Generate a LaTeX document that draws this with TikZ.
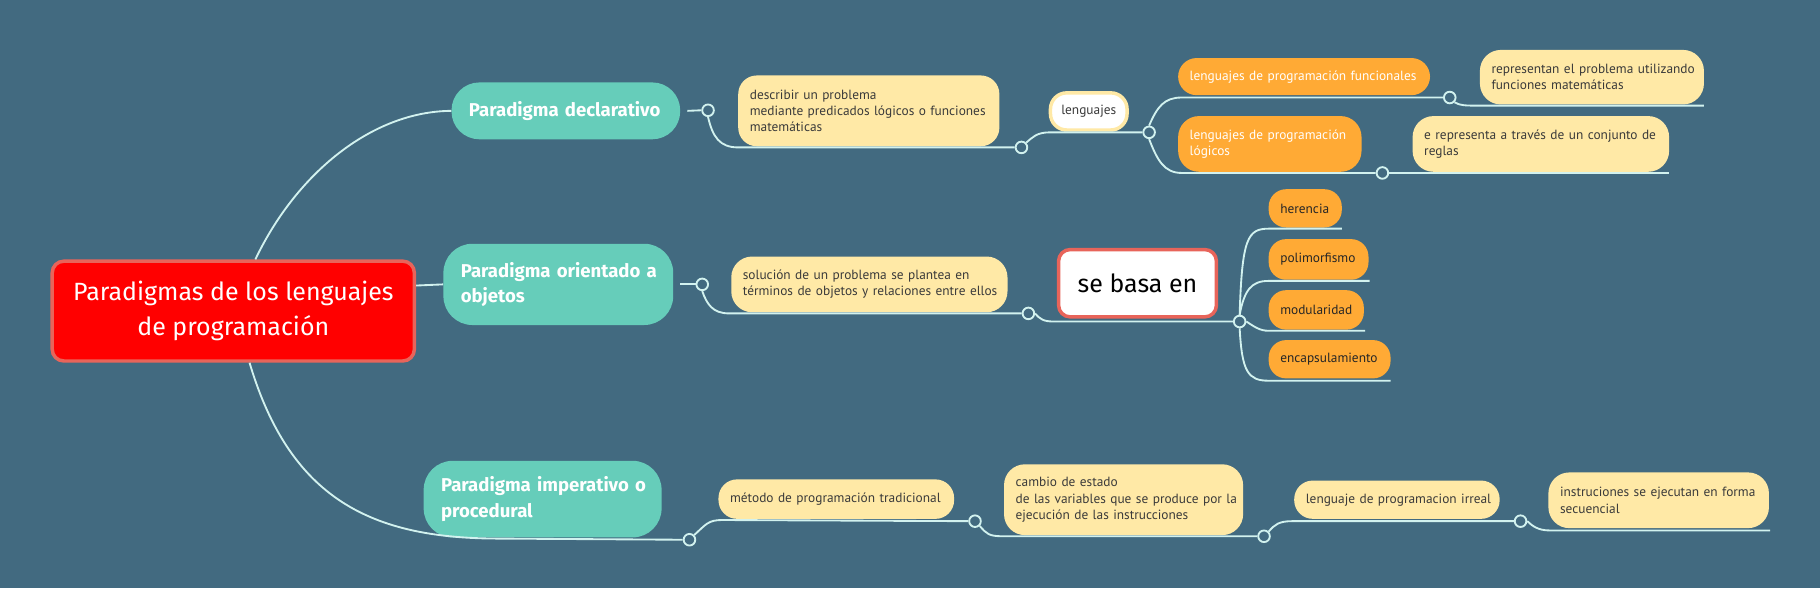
\documentclass[tikz,border=0pt]{standalone}
\usepackage{fontspec}
\setmainfont{PT Sans}
\newfontfamily\headfont{Fira Sans}
\usetikzlibrary{calc}
\definecolor{bg}{HTML}{426A80}
\definecolor{teal}{HTML}{66CDBA}
\definecolor{yel}{HTML}{FFE9A6}
\definecolor{ora}{HTML}{FFAA35}
\definecolor{lin}{HTML}{D2F2EF}
\definecolor{rootred}{HTML}{FF0000}
\definecolor{rootborder}{HTML}{E8645A}
\definecolor{txt}{HTML}{3A3A3A}
\newcommand\lne[1]{\mbox{#1}}
\tikzset{
  conn/.style={draw=lin, line width=1.6pt},
  dot/.style={circle, draw=lin, fill=bg, line width=1.6pt, minimum size=10pt, inner sep=0pt},
  headbox/.style={fill=teal, text=white, inner xsep=15pt, inner ysep=0pt, align=left,
    font=\headfont\bfseries\fontsize{16}{22}\selectfont},
  yelbox/.style={fill=yel, text=txt, inner xsep=10pt, inner ysep=0pt, align=left,
    font=\fontsize{11.5}{14}\selectfont},
  orabox/.style={fill=ora, text=white, inner xsep=10pt, inner ysep=0pt, align=left,
    font=\fontsize{11.5}{14}\selectfont},
  orabox2/.style={fill=ora, text=black!85, inner xsep=10pt, inner ysep=0pt, align=left,
    font=\fontsize{11.5}{14}\selectfont},
}
\begin{document}
\begin{tikzpicture}[x=1pt,y=-1pt]
\fill[bg] (0,0) rectangle (1568,507);
\useasboundingbox (0,0) rectangle (1568,507);

% root
\node[fill=rootred, draw=rootborder, line width=3pt, rounded corners=10pt,
  minimum width=312pt, minimum height=86pt, text=white, align=center,
  font=\headfont\fontsize{21.5}{30}\selectfont] (root) at (201,268)
  {Paradigmas de los lenguajes\\de programación};

% heads
\node[headbox, rounded corners=24pt, text width=167pt, minimum height=49pt] (decl) at (487.5,95.5) {\lne{Paradigma declarativo}};
\node[headbox, rounded corners=25pt, text width=168pt, minimum height=70pt] (oo) at (481,245) {\lne{Paradigma orientado a}\\\lne{objetos}};
\node[headbox, rounded corners=25pt, text width=175pt, minimum height=66pt] (imp) at (467.5,430) {\lne{Paradigma imperativo o}\\\lne{procedural}};

% declarative branch
\node[yelbox, rounded corners=16pt, text width=205pt, minimum height=61pt] (desc) at (748.5,95.5)
  {\lne{describir un problema}\\\lne{mediante predicados lógicos o funciones}\\\lne{matemáticas}};
\node[fill=white, draw=yel, line width=3pt, rounded corners=14pt, minimum width=66pt, minimum height=32pt,
  inner sep=0pt, text=txt, font=\fontsize{11.5}{14}\selectfont] (leng) at (938,96) {lenguajes};
\node[orabox, rounded corners=16pt, text width=197pt, minimum height=32pt] (funcs) at (1123.5,66) {\lne{lenguajes de programación funcionales}};
\node[orabox, rounded corners=18pt, text width=138pt, minimum height=48pt] (logs) at (1094,124) {\lne{lenguajes de programación}\\\lne{lógicos}};
\node[yelbox, rounded corners=18pt, text width=173pt, minimum height=47pt] (repr) at (1371.5,66.5) {\lne{representan el problema utilizando}\\\lne{funciones matemáticas}};
\node[yelbox, rounded corners=18pt, text width=201pt, minimum height=48pt] (erep) at (1327.5,124) {\lne{e representa a través de un conjunto de}\\\lne{reglas}};

% object branch
\node[yelbox, rounded corners=18pt, text width=218pt, minimum height=48pt] (sol) at (749,245)
  {\lne{solución de un problema se plantea en}\\\lne{términos de objetos y relaciones entre ellos}};
\node[fill=white, draw=rootborder, line width=3pt, rounded corners=10pt, minimum width=136pt, minimum height=58pt,
  inner sep=0pt, text=black, font=\headfont\fontsize{21.5}{26}\selectfont] (sebasa) at (980,244) {se basa en};
\node[orabox2, rounded corners=15pt, text width=43pt, minimum height=33pt] (her) at (1124.5,179.5) {\lne{herencia}};
\node[orabox2, rounded corners=15pt, text width=66pt, minimum height=35pt] (pol) at (1136,223.5) {\lne{polimorfismo}};
\node[orabox2, rounded corners=15pt, text width=62pt, minimum height=34pt] (mod) at (1134,267) {\lne{modularidad}};
\node[orabox2, rounded corners=15pt, text width=85pt, minimum height=33pt] (enc) at (1145.5,309.5) {\lne{encapsulamiento}};

% imperative branch
\node[yelbox, rounded corners=16pt, text width=183pt, minimum height=34pt] (met) at (720.5,430) {\lne{método de programación tradicional}};
\node[yelbox, rounded corners=18pt, text width=186pt, minimum height=61pt] (cam) at (968,430.5)
  {\lne{cambio de estado}\\\lne{de las variables que se produce por la}\\\lne{ejecución de las instrucciones}};
\node[yelbox, rounded corners=16pt, text width=157pt, minimum height=33pt] (irr) at (1203.5,430.5) {\lne{lenguaje de programacion irreal}};
\node[yelbox, rounded corners=18pt, text width=170pt, minimum height=48pt] (ins) at (1429,431) {\lne{instruciones se ejecutan en forma}\\\lne{secuencial}};

% junction dots
\node[dot] (c1) at (610,95) {};
\node[dot] (c2) at (880,127) {};
\node[dot] (c3) at (990,114) {};
\node[dot] (c4) at (1249,84) {};
\node[dot] (c5) at (1191,149) {};
\node[dot] (c6) at (605,245) {};
\node[dot] (c7) at (886,270) {};
\node[dot] (c8) at (1068,277) {};
\node[dot] (c9) at (594,465) {};
\node[dot] (c10) at (840,449) {};
\node[dot] (c11) at (1089,462) {};
\node[dot] (c12) at (1310,449) {};

% free ends
\coordinate (e1) at (1468,91);
\coordinate (e2) at (1438,149);
\coordinate (e3) at (1156,197);
\coordinate (e4) at (1180,242);
\coordinate (e5) at (1176,285);
\coordinate (e6) at (1198,328);
\coordinate (e7) at (1525,457);

% connectors
\draw[conn] ([xshift=19pt]root.north) .. controls (255,150) and (320,96) .. (decl.west);
\draw[conn] ([yshift=22pt]root.east) -- (oo.west);
\draw[conn] ([xshift=14pt]root.south) .. controls (250,430) and (320,464) .. (430,464) -- (c9.west);

\draw[conn] ([xshift=6pt]decl.east) -- (c1.west);
\draw[conn] (c1.south) .. controls (614,118) and (620,127) .. (636,127) -- (c2.west);
\draw[conn] (c2.north east) .. controls (890,118) and (893,114) .. (905,114) -- (c3.west);
\draw[conn] (c3.north) .. controls (997,92) and (1003,84) .. (1018,84) -- (c4.west);
\draw[conn] (c4.south east) .. controls (1258,91) and (1262,91) .. (1275,91) -- (e1);
\draw[conn] (c3.south) .. controls (997,138) and (1003,149) .. (1018,149) -- (c5.west);
\draw[conn] (c5.east) -- (e2);

\draw[conn] ([xshift=6pt]oo.east) -- (c6.west);
\draw[conn] (c6.south) .. controls (609,262) and (614,270) .. (628,270) -- (c7.west);
\draw[conn] (c7.east) .. controls (896,275) and (899,277) .. (908,277) -- (c8.west);
\draw[conn] (c8.north) .. controls (1070,205) and (1075,197) .. (1093,197) -- (e3);
\draw[conn] (c8.north) .. controls (1072,250) and (1078,242) .. (1093,242) -- (e4);
\draw[conn] (c8.east) .. controls (1080,281) and (1085,285) .. (1093,285) -- (e5);
\draw[conn] (c8.south) .. controls (1070,320) and (1075,328) .. (1093,328) -- (e6);

\draw[conn] (c9.north east) .. controls (608,452) and (610,448) .. (622,448) -- (c10.west);
\draw[conn] (c10.south east) .. controls (850,460) and (852,462) .. (864,462) -- (c11.west);
\draw[conn] (c11.north east) .. controls (1098,452) and (1102,449) .. (1113,449) -- (c12.west);
\draw[conn] (c12.east) .. controls (1320,453) and (1325,457) .. (1335,457) -- (e7);
\end{tikzpicture}
\end{document}
